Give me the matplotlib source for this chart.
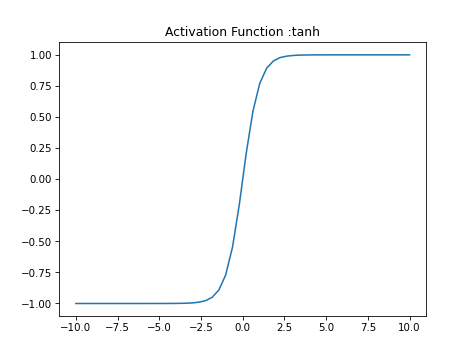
import matplotlib
matplotlib.use("Agg")
import matplotlib.pyplot as plt

# sample points
x_vals = [-10.00, -9.59, -9.18, -8.78, -8.37, -7.96, -7.55, -7.14, -6.73, -6.33,
          -5.92, -5.51, -5.10, -4.69, -4.29, -3.88, -3.47, -3.06, -2.65, -2.24,
          -1.84, -1.43, -1.02, -0.61, -0.20, 0.20, 0.61, 1.02, 1.43, 1.84,
          2.24, 2.65, 3.06, 3.47, 3.88, 4.29, 4.69, 5.10, 5.51, 5.92,
          6.33, 6.73, 7.14, 7.55, 7.96, 8.37, 8.78, 9.18, 9.59, 10.00]
y_pos = [0.200, 0.545, 0.770, 0.892, 0.951, 0.978, 0.990, 0.9956, 0.9981, 0.9991,
         0.9996, 0.9998, 0.9999, 1.0, 1.0, 1.0, 1.0, 1.0, 1.0, 1.0,
         1.0, 1.0, 1.0, 1.0, 1.0]
y_vals = [-v for v in reversed(y_pos)] + y_pos

title = "Activation Function :tanh"

fig = plt.figure(figsize=(6.4, 4.8), dpi=74)
plt.plot(x_vals, y_vals)
plt.title(title)
plt.savefig("out.png")
